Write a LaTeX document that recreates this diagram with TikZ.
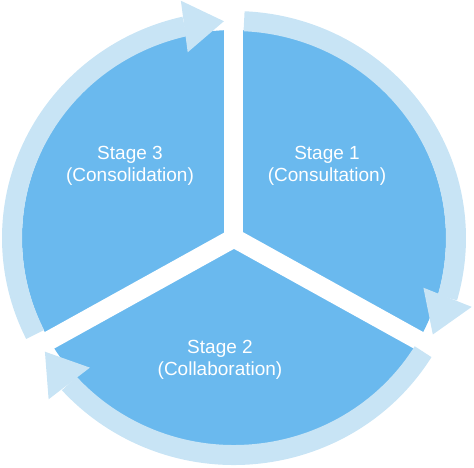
\documentclass[tikz,border=0pt]{standalone}
\usepackage{fontspec}
\setmainfont{Liberation Sans}
\usetikzlibrary{arrows.meta,bending}
\definecolor{stageblue}{RGB}{106,185,238}
\definecolor{ringblue}{RGB}{200,228,245}
\begin{document}
\begin{tikzpicture}
	[
		x=1pt,
		y=1pt,
		>={Triangle[length=40pt,width=52pt,line width=0pt]},
		ringarrow/.style={->,line width=20pt,color=ringblue},
		gap/.style={line width=19pt,color=white},
		stagetext/.style={text=white,align=center,font=\fontsize{19}{22}\selectfont}
	]
		\useasboundingbox (-234,-229) rectangle (240,238);
		% sectors
		\fill [stageblue] (0,0) ellipse [x radius=212pt,y radius=208pt];
		\draw [gap] (0,0) -- (90:236pt);
		\draw [gap] (0,0) -- (-29:240pt);
		\draw [gap] (0,0) -- (209:240pt);
		% arrows round the circle
		\draw [ringarrow] (87.4:222pt and 217pt) arc [start angle=87.4,end angle=-26.4,x radius=222pt,y radius=217pt];
		\draw [ringarrow] (-31.6:222pt and 217pt) arc [start angle=-31.6,end angle=-148.4,x radius=222pt,y radius=217pt];
		\draw [ringarrow] (206.4:222pt and 217pt) arc [start angle=206.4,end angle=92.6,x radius=222pt,y radius=217pt];
		% labels
		\node [stagetext] (stage1) at (93,72) {Stage 1\\(Consultation)};
		\node [stagetext] (stage2) at (-14,-122) {Stage 2\\(Collaboration)};
		\node [stagetext] (stage3) at (-104,72) {Stage 3\\(Consolidation)};
	\end{tikzpicture}
\end{document}
